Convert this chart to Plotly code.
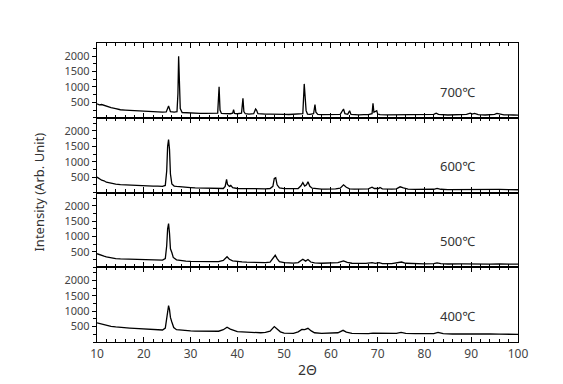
import plotly.graph_objects as go
from plotly.subplots import make_subplots

# ---- data (2-theta, intensity) ----
tt_700 = [10, 10.5, 11, 11.5, 12, 12.5, 13, 14, 15, 16, 17, 18, 19, 20, 21, 22, 23, 24, 24.8, 25.3, 25.7,
          26.5, 27.1, 27.3, 27.45, 27.6, 27.8, 28.2, 29, 30, 31, 32, 33, 34, 35, 35.8, 36.1, 36.3, 36.6,
          37.5, 38.5, 39.0, 39.2, 39.4, 40, 40.9, 41.2, 41.4, 41.7, 42.5, 43.5, 43.9, 44.1, 44.4, 45, 46,
          47, 48, 49, 50, 51, 52, 53, 54.0, 54.3, 54.5, 54.7, 55.0, 55.5, 56.3, 56.6, 56.8, 57.2, 58, 59,
          60, 61, 62, 62.7, 63.0, 63.6, 64.0, 64.3, 65, 66, 67, 68, 68.8, 69.0, 69.2, 69.8, 70.0, 70.5, 72,
          74, 75, 76, 78, 80, 82, 82.5, 83, 85, 87, 89, 89.8, 90.2, 90.7, 91.5, 93, 95, 95.5, 96.2, 97, 99, 100]
i_700 = [450, 420, 430, 400, 380, 360, 330, 300, 260, 250, 240, 235, 225, 220, 210, 200, 195, 185, 190, 380, 200,
         180, 200, 780, 2000, 780, 300, 170, 160, 150, 150, 145, 140, 135, 135, 150, 1010, 250, 140,
         130, 130, 150, 260, 140, 130, 150, 630, 200, 130, 120, 130, 285, 250, 130, 120, 115,
         120, 110, 115, 110, 105, 110, 105, 130, 1100, 500, 230, 120, 110, 130, 425, 180, 110, 100, 105,
         100, 100, 110, 285, 130, 110, 230, 110, 100, 95, 100, 100, 130, 470, 180, 230, 120, 100, 95,
         100, 110, 95, 95, 100, 110, 150, 110, 90, 95, 110, 150, 120, 140, 100, 90, 110, 140, 120, 95, 90, 85]

tt_600 = [10, 10.5, 11, 11.5, 12, 12.5, 13, 14, 15, 16, 17, 18, 19, 20, 21, 22, 23, 24, 24.6, 24.9, 25.1,
          25.3, 25.5, 25.7, 26.0, 26.5, 27, 28, 29, 30, 31, 32, 33, 34, 35, 36, 37, 37.4, 37.7, 37.9, 38.3,
          38.6, 39, 40, 41, 42, 43, 44, 45, 46, 47, 47.6, 47.9, 48.2, 48.5, 49, 50, 51, 52, 53, 53.6, 54.0,
          54.4, 54.8, 55.1, 55.5, 56, 57, 58, 59, 60, 61, 62, 62.7, 63.3, 64, 65, 66, 67, 68, 68.8, 69.3,
          70.2, 70.5, 71, 72, 73, 74, 74.8, 75.5, 76.5, 78, 80, 82, 82.7, 83.5, 85, 87, 89, 91, 93, 95, 96,
          98, 100]
i_600 = [500, 450, 400, 380, 335, 320, 300, 270, 255, 245, 235, 235, 225, 225, 215, 210, 205, 200, 230, 700, 1500,
         1720, 1400, 600, 280, 210, 200, 180, 170, 160, 150, 145, 140, 140, 130, 125, 130, 200, 425, 260, 200,
         230, 160, 130, 125, 120, 120, 115, 120, 120, 130, 200, 460, 480, 250, 150, 125, 120, 115, 130, 220, 320,
         210, 250, 350, 200, 140, 120, 110, 110, 110, 115, 140, 250, 170, 120, 110, 110, 110, 120, 175, 130,
         130, 165, 120, 110, 110, 120, 185, 150, 110, 100, 100, 105, 135, 105, 95, 100, 95, 100, 95, 110, 100,
         95, 90]

tt_500 = [10, 10.5, 11, 11.5, 12, 12.5, 13, 14, 15, 16, 17, 18, 19, 20, 21, 22, 23, 24, 24.6, 24.9, 25.1,
          25.3, 25.5, 25.7, 26.0, 26.3, 27, 28, 29, 30, 31, 32, 33, 34, 35, 36, 37, 37.8, 38.3, 39, 40, 41,
          42, 43, 44, 45, 46, 47, 47.7, 48.1, 48.5, 49, 50, 51, 52, 53, 53.6, 54.0, 54.6, 55.1, 55.7, 56.5,
          58, 60, 61.5, 62.7, 63.5, 64.5, 66, 67.5, 68.8, 69.5, 70.3, 71, 73, 74.5, 75.1, 76, 78, 80, 82,
          82.7, 83.5, 85, 88, 90, 92, 94, 96, 98, 100]
i_500 = [440, 420, 390, 360, 335, 320, 300, 280, 270, 265, 255, 250, 255, 250, 245, 235, 230, 230, 280, 700, 1250,
         1420, 1100, 600, 480, 320, 240, 210, 200, 190, 185, 180, 175, 175, 180, 185, 220, 340, 260, 210, 185, 175,
         165, 160, 155, 150, 150, 170, 300, 390, 280, 180, 150, 140, 135, 150, 220, 260, 200, 250, 170, 140,
         130, 130, 150, 205, 160, 130, 120, 125, 150, 125, 150, 120, 115, 140, 170, 130, 115, 110, 115,
         140, 120, 105, 110, 100, 105, 100, 105, 100, 100]

tt_400 = [10, 10.5, 11, 11.5, 12, 13, 14, 15, 16, 17, 18, 19, 20, 21, 22, 23, 24, 24.6, 24.9, 25.1, 25.3,
          25.5, 25.7, 26.0, 26.4, 27, 28, 29, 30, 31, 32, 33, 34, 35, 36, 37, 37.8, 38.5, 39.5, 40, 41, 42,
          43, 44, 45, 46, 47, 47.9, 48.5, 49.2, 50, 51, 52, 53, 53.8, 54.4, 55.1, 55.8, 56.5, 58, 60, 61.5,
          62.6, 63.3, 64.5, 66, 68, 69, 70, 72, 74, 75, 76, 78, 80, 82, 82.9, 84, 86, 88, 90, 92, 94, 96,
          98, 100]
i_400 = [620, 600, 580, 550, 540, 510, 490, 470, 460, 450, 440, 430, 420, 410, 400, 395, 390, 450, 750, 1050, 1180,
         1050, 800, 650, 470, 400, 380, 370, 360, 355, 350, 345, 340, 335, 350, 400, 480, 420, 360, 340, 330, 320,
         315, 305, 300, 310, 350, 500, 420, 330, 290, 280, 280, 330, 410, 400, 445, 360, 300, 280, 280, 300,
         380, 320, 280, 270, 275, 290, 285, 270, 280, 315, 280, 270, 265, 275, 315, 270, 260, 265, 260, 255, 260, 255,
         250, 250]

labels = ["700℃", "600℃", "500℃", "400℃"]
series = [(tt_700, i_700), (tt_600, i_600), (tt_500, i_500), (tt_400, i_400)]
x_ticks = [10, 20, 30, 40, 50, 60, 70, 80, 90, 100]
y_ticks = [500, 1000, 1500, 2000]

fig = make_subplots(rows=4, cols=1, shared_xaxes=True, vertical_spacing=0)

FONT = "Noto Sans, DejaVu Sans, sans-serif"
for r, ((tt, ii), lab) in enumerate(zip(series, labels), start=1):
    fig.add_trace(go.Scatter(x=tt, y=ii, mode="lines", line=dict(color="black", width=1.3),
                             showlegend=False, hoverinfo="skip"), row=r, col=1)
    fig.add_annotation(x=87, y=850, text=lab, showarrow=False, xref=f"x{r if r > 1 else ''}",
                       yref=f"y{r if r > 1 else ''}", font=dict(size=13, color="#333", family=FONT))
    fig.update_yaxes(row=r, col=1, range=[0, 2430], tickvals=y_ticks, ticks="outside", ticklen=4,
                     minor=dict(dtick=250, tick0=0, ticks="outside", ticklen=3, tickcolor="black"),
                     showline=True, linecolor="black", linewidth=1.3, mirror=True, showgrid=False,
                     zeroline=False, tickcolor="black", tickfont=dict(size=11, color="#444", family=FONT))
    fig.update_xaxes(row=r, col=1, range=[10, 100], tickvals=x_ticks, ticks="inside", ticklen=5,
                     minor=dict(dtick=2, tick0=10, ticks="inside", ticklen=3, tickcolor="black"),
                     showline=True, linecolor="black", linewidth=1.3, mirror="allticks", showgrid=False,
                     zeroline=False, tickcolor="black", showticklabels=(r == 4),
                     tickfont=dict(size=12, color="#444", family=FONT))

fig.update_xaxes(row=4, col=1, title=dict(text="2Θ", font=dict(size=14, color="#333", family=FONT), standoff=4))
fig.add_annotation(x=-0.14, xref="paper", y=0.5, yref="paper", xanchor="center", yanchor="middle",
                   text="Intensity (Arb. Unit)", textangle=-90, showarrow=False,
                   font=dict(size=13, color="#333", family=FONT))
fig.update_layout(width=563, height=384, margin=dict(l=89, r=53, t=35, b=50),
                  paper_bgcolor="white", plot_bgcolor="white")
fig.write_html("out.html")
